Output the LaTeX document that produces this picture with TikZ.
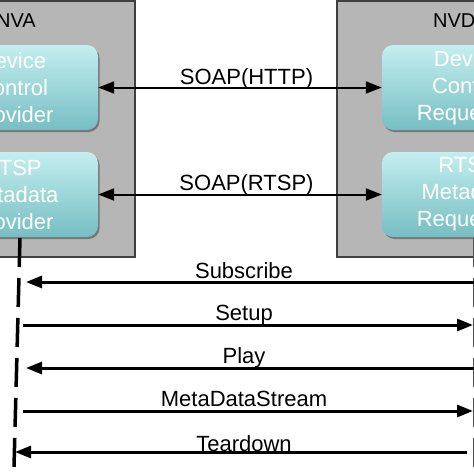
\documentclass[tikz,border=0pt]{standalone}
\usepackage{fontspec}
\setmainfont{Liberation Sans}
\usetikzlibrary{arrows.meta,shadows}
\definecolor{boxgray}{RGB}{182,182,182}
\definecolor{boxborder}{RGB}{64,64,64}
\definecolor{tealtop}{RGB}{196,238,240}
\definecolor{tealbot}{RGB}{118,190,194}
\definecolor{lifegray}{RGB}{80,80,80}
\tikzset{
  container/.style={draw=boxborder, line width=1.5pt, fill=boxgray, minimum width=#1, minimum height=256pt, inner sep=0pt},
  roleb/.style={rounded corners=11pt, top color=tealtop, bottom color=tealbot, draw=none,
    minimum width=171pt, minimum height=85pt, inner sep=0pt, align=center, text=white,
    font=\fontsize{22}{27}\selectfont,
    drop shadow={shadow xshift=1.5pt, shadow yshift=-2pt, opacity=0.35, fill=black}},
  lbl/.style={font=\fontsize{22}{26}\selectfont, anchor=base, inner sep=0pt},
  tip/.style={-{Triangle[length=16pt,width=12pt]}},
  msg/.style={line width=3pt, tip},
  soap/.style={line width=2pt, {Triangle[length=16pt,width=12pt]}-{Triangle[length=16pt,width=12pt]}},
  lifeline/.style={line width=3.5pt, dash pattern=on 29pt off 11pt},
}
\begin{document}
\begin{tikzpicture}[x=1pt,y=-1pt]
\useasboundingbox (0,0) rectangle (474,474);
% containers
\node[container=247pt] (nva) at (11.5,129) {};
\node[container=263pt] (nvd) at (468.5,129) {};
\node[font=\fontsize{20}{24}\selectfont, anchor=base east, inner sep=0pt] (nvalbl) at (36,27) {NVA};
\node[font=\fontsize{20}{24}\selectfont, anchor=base west, inner sep=0pt] (nvdlbl) at (433,27) {NVD};
% role boxes
\node[roleb] (dcp) at (12.5,87.5) {Device\\Control\\Provider};
\node[roleb] (rmp) at (12.5,194.5) {RTSP\\Metadata\\Provider};
\node[roleb] (dcr) at (467.5,87.5) {Device\\Control\\Requester};
\node[roleb] (rmr) at (467.5,194.5) {RTSP\\Metadata\\Requester};
% soap connectors
\draw[soap] (dcp.east) -- (dcr.west);
\draw[soap] (rmp.east) -- (rmr.west);
\node[lbl] (soaph) at (246.5,84) {SOAP(HTTP)};
\node[lbl] (soapr) at (246.5,190) {SOAP(RTSP)};
% lifelines
\coordinate (lt) at (20,238);
\coordinate (lb) at (14,467);
\coordinate (rt) at (474,238);
\coordinate (rb) at (474,467);
\draw[lifeline] (lt) -- (lb);
\draw[lifeline, lifegray, line width=3pt] (rt) -- (rb);
% messages
\coordinate (m1r) at (474,282); \coordinate (m1l) at (26,282);
\coordinate (m2l) at (23,325);  \coordinate (m2r) at (473,325);
\coordinate (m3r) at (474,368); \coordinate (m3l) at (26,368);
\coordinate (m4l) at (23,411);  \coordinate (m4r) at (473,411);
\coordinate (m5r) at (467,452); \coordinate (m5l) at (15,452);
\draw[msg] (m1r) -- (m1l);
\draw[msg] (m2l) -- (m2r);
\draw[msg] (m3r) -- (m3l);
\draw[msg] (m4l) -- (m4r);
\draw[msg] (m5r) -- (m5l);
\node[lbl] (t1) at (244,278) {Subscribe};
\node[lbl] (t2) at (244,320) {Setup};
\node[lbl] (t3) at (244,363) {Play};
\node[lbl] (t4) at (244,406) {MetaDataStream};
\node[lbl] (t5) at (244,451) {Teardown};
\end{tikzpicture}
\end{document}
